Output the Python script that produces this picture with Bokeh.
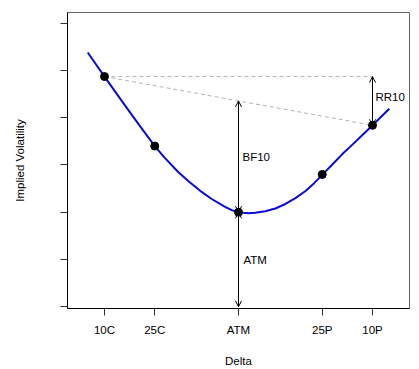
from bokeh.plotting import figure
from bokeh.models import Arrow, OpenHead, FixedTicker, Range1d, Label
from bokeh.embed import file_html
from bokeh.resources import INLINE

# ---- data ----
tick_names = ["10C", "25C", "ATM", "25P", "10P"]
deltas = [0.10, 0.25, 0.50, 0.75, 0.90]
vols = [4.87, 3.40, 2.00, 2.80, 3.84]

curve_delta = [0.05, 0.10, 0.16, 0.20, 0.25, 0.28, 0.32, 0.35, 0.39, 0.42,
               0.46, 0.48, 0.50, 0.515, 0.53, 0.55, 0.58, 0.61, 0.64, 0.67,
               0.70, 0.725, 0.75, 0.78, 0.81, 0.84, 0.87, 0.90, 0.95]
curve_vol = [5.38, 4.87, 4.27, 3.88, 3.40, 3.15, 2.85, 2.66, 2.43, 2.28,
             2.115, 2.045, 2.00, 1.987, 1.98, 1.987, 2.02, 2.08, 2.175, 2.30,
             2.45, 2.61, 2.79, 3.01, 3.23, 3.43, 3.635, 3.84, 4.19]

y_ticks = [0, 1, 2, 3, 4, 5, 6]

FONT = "Liberation Sans"
FS = "11.5px"

p = figure(width=419, height=369, output_backend="svg", toolbar_location=None,
           x_range=Range1d(-0.0104, 1.0104), y_range=Range1d(-0.036, 6.225),
           min_border_left=67, min_border_right=10, min_border_top=12,
           min_border_bottom=59)
p.grid.visible = False
p.outline_line_color = "#666666"
p.outline_line_width = 1
p.background_fill_color = "white"
p.border_fill_color = "white"

# axes
p.xaxis.ticker = FixedTicker(ticks=deltas)
p.xaxis.major_label_overrides = {d: n for d, n in zip(deltas, tick_names)}
p.yaxis.ticker = FixedTicker(ticks=y_ticks)
p.yaxis.major_label_overrides = {t: "" for t in y_ticks}
for ax in (p.xaxis[0], p.yaxis[0]):
    ax.axis_line_color = "black"
    ax.axis_line_width = 1
    ax.major_tick_line_color = "#333333"
    ax.major_tick_in = 0
    ax.major_tick_out = 7
    ax.minor_tick_line_color = None
    ax.major_label_text_font = FONT
    ax.major_label_text_font_size = FS
    ax.major_label_text_color = "black"
    ax.axis_label_text_font = FONT
    ax.axis_label_text_font_size = FS
    ax.axis_label_text_font_style = "normal"
    ax.axis_label_text_color = "black"
p.xaxis.axis_label = "Delta"
p.xaxis.major_label_standoff = 8
p.xaxis.axis_label_standoff = 16
p.yaxis.axis_label = "Implied Volatility"
p.yaxis.major_label_standoff = 0
p.yaxis.axis_label_standoff = 35

# dashed reference lines
dash_col = "#b4b4b4"
p.line([deltas[0], deltas[4]], [vols[0], vols[0]], line_color=dash_col,
       line_dash="4 3", line_width=1)
p.line([deltas[0], deltas[4]], [vols[0], vols[4]], line_color=dash_col,
       line_dash="4 3", line_width=1)

# smile curve
p.line(curve_delta, curve_vol, line_color="#0a0ad8", line_width=2,
       line_join="round")

# arrows
def arrow(x, y0, y1):
    p.add_layout(Arrow(x_start=x, y_start=y0, x_end=x, y_end=y1,
                       start=OpenHead(size=6, line_width=1, line_color="black"),
                       end=OpenHead(size=6, line_width=1, line_color="black"),
                       line_color="black", line_width=1))

bf_top = (vols[0] + vols[4]) / 2
arrow(deltas[4], vols[4], vols[0])
arrow(deltas[2], vols[2], bf_top)
arrow(deltas[2], 0, vols[2])

# points
p.scatter(deltas, vols, size=8, fill_color="black", line_color="black")

# labels
def lab(txt, x, y, xo):
    p.add_layout(Label(x=x, y=y, text=txt, x_offset=xo, text_align="left",
                       text_baseline="middle", text_font=FONT,
                       text_font_size=FS, text_color="black"))

lab("RR10", deltas[4], (vols[0] + vols[4]) / 2 + 0.09, 3)
lab("BF10", deltas[2], (vols[2] + bf_top) / 2, 4)
lab("ATM", deltas[2], vols[2] / 2, 5)

open("out.html", "w").write(file_html(p, INLINE))
